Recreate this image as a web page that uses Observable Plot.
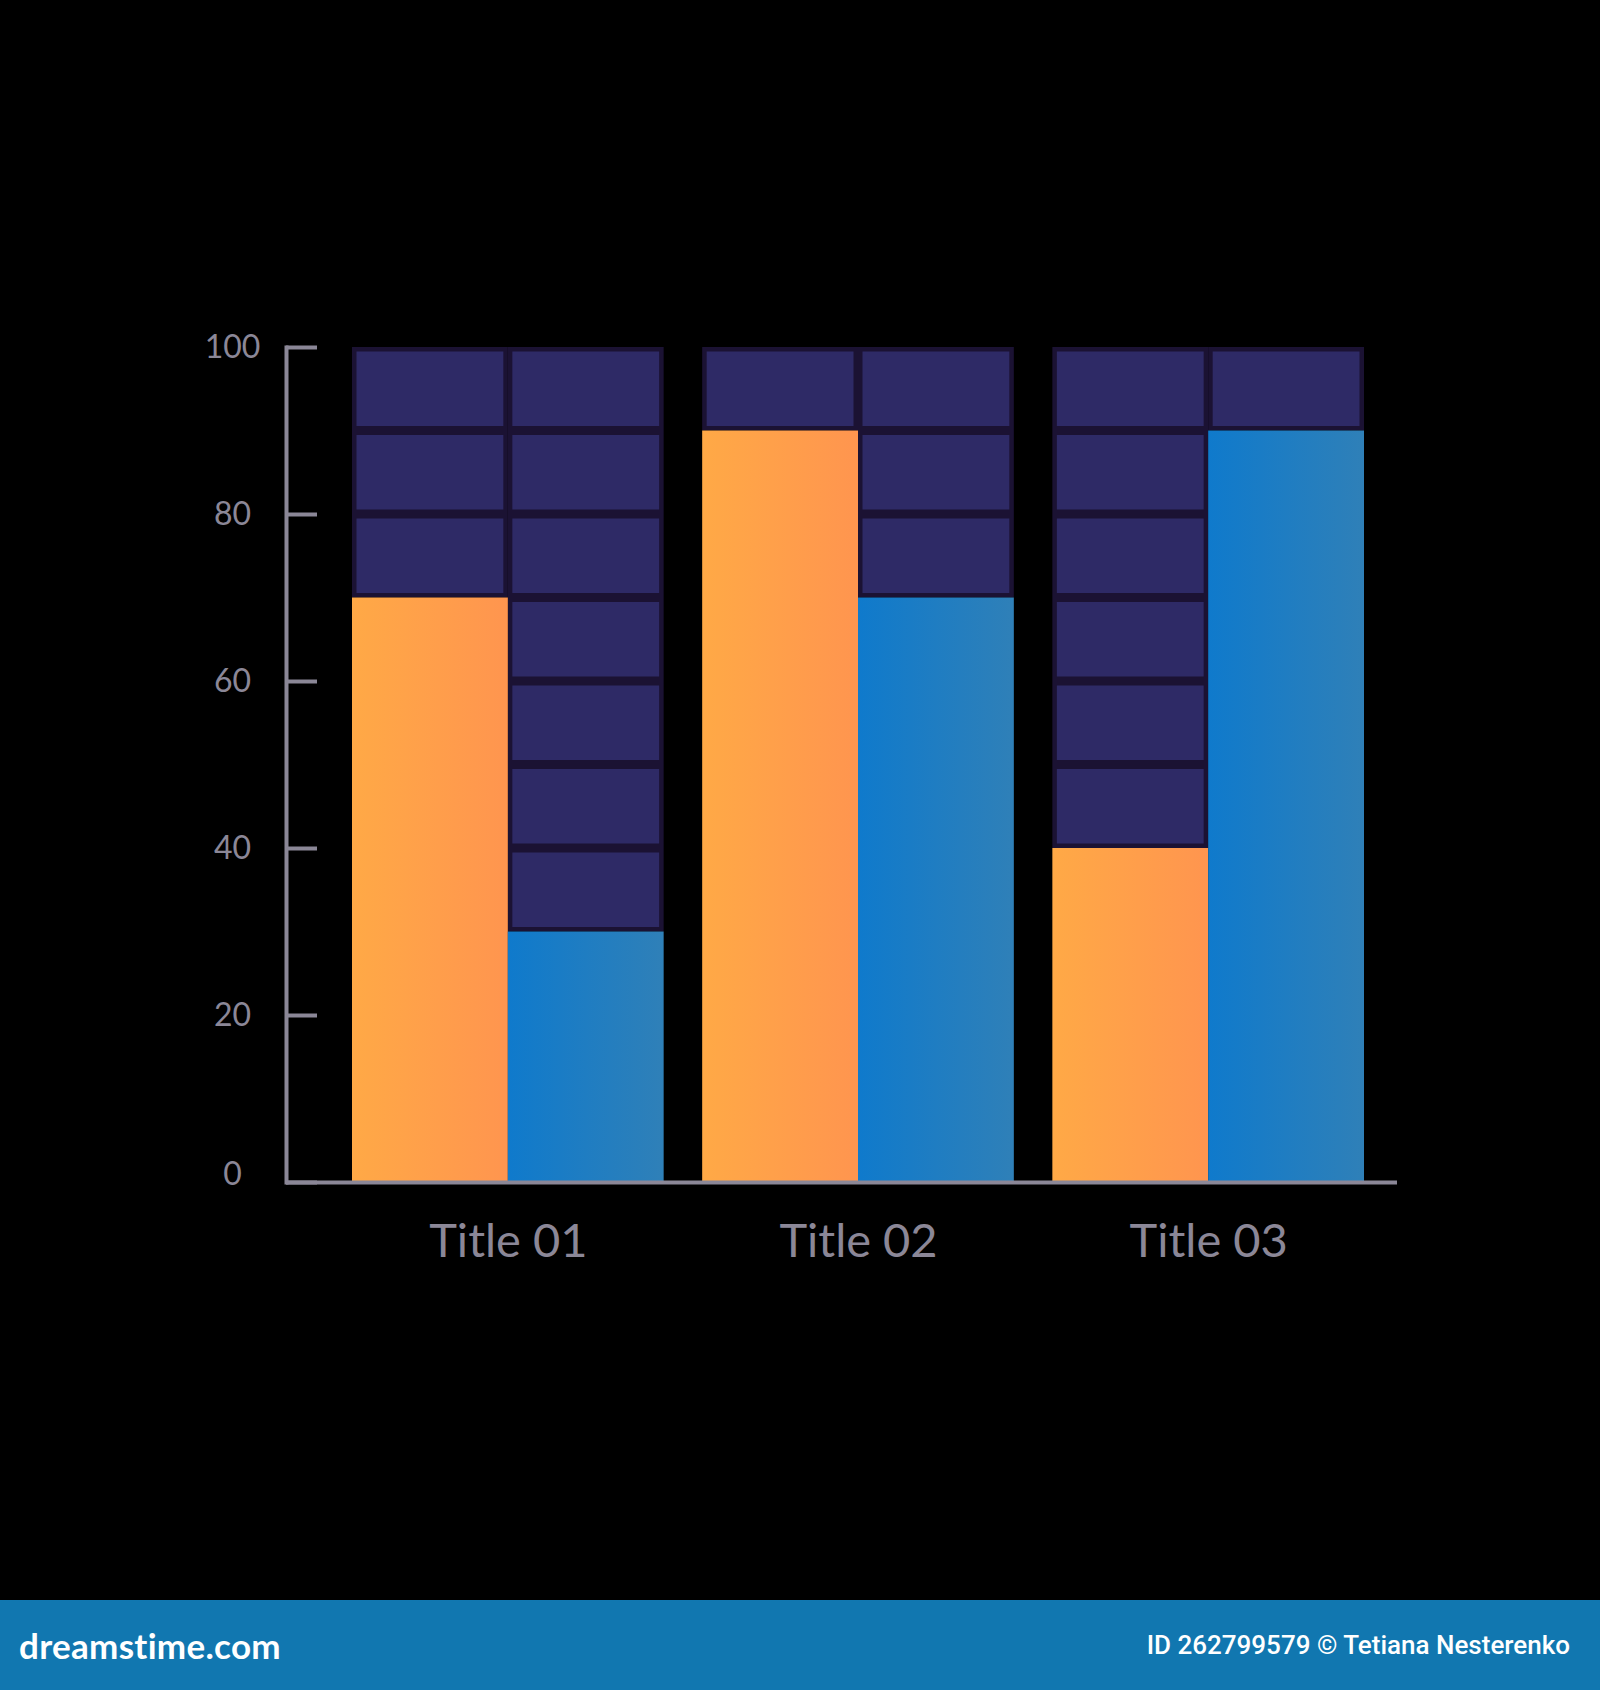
<!DOCTYPE html>
<html>
<head>
<meta charset="utf-8">
<script src="https://cdn.jsdelivr.net/npm/d3@7"></script>
<script src="https://cdn.jsdelivr.net/npm/@observablehq/plot@0.6"></script>
<style>
  html, body { margin: 0; padding: 0; background: #000; }
  #chart { width: 1600px; height: 1600px; background: #000; }
  #footer {
    width: 1600px; height: 90px; background: #1177b0;
    display: flex; align-items: center; justify-content: space-between;
    box-sizing: border-box; padding: 0 30px 0 19px; color: #fff;
  }
  #footer .brand { font-family: Lato, sans-serif; font-weight: 700; font-size: 35px; letter-spacing: 0.3px; }
  #footer .credit { font-family: Roboto, sans-serif; font-weight: 500; font-size: 26px; }
</style>
</head>
<body>
<div id="chart"></div>
<div id="footer"><span class="brand">dreamstime.com</span><span class="credit">ID 262799579 © Tetiana Nesterenko</span></div>
<script>
// ---- data ----
const groups = ["Title 01", "Title 02", "Title 03"];
const orangeValues = [70, 90, 40];
const blueValues = [30, 70, 90];
const yTicks = [0, 20, 40, 60, 80, 100];
const cellStep = 10;
const yMax = 100;

// ---- derived tables ----
const columns = [];
groups.forEach((g, i) => {
  columns.push({group: g, series: "orange", value: orangeValues[i]});
  columns.push({group: g, series: "blue", value: blueValues[i]});
});
const cells = [];
for (const c of columns) {
  for (let k = Math.ceil(c.value / cellStep); k < yMax / cellStep; k++) {
    cells.push({group: c.group, series: c.series, y1: k * cellStep, y2: (k + 1) * cellStep});
  }
}
const orangeRows = groups.map((g, i) => ({group: g, value: orangeValues[i]}));
const blueRows = groups.map((g, i) => ({group: g, value: blueValues[i]}));

// ---- layout ----
const W = 1600, H = 1600;
const marginLeft = 286, marginRight = 203, marginTop = 347, marginBottom = 418;
const xRange = [352, 1364];
const padInner = 0.11;
const bw = d3.scaleBand().domain(groups).range(xRange).paddingInner(padInner).paddingOuter(0).bandwidth();
const half = bw / 2;
const frameW = W - marginLeft - marginRight;

const axisColor = "#8b8797";
const navy = "#2e2a66";
const navyEdge = "#1b1233";
const cellInset = 4.5;
const tickLabel = {text: d => String(d), frameAnchor: "left", dx: -54, textAnchor: "middle", fontSize: 32, fill: axisColor};

const chart = Plot.plot({
  width: W, height: H,
  marginLeft, marginRight, marginTop, marginBottom,
  style: {background: "#000", fontFamily: "Lato, sans-serif", color: axisColor},
  x: {domain: groups, range: xRange, paddingInner: padInner, paddingOuter: 0, round: false, axis: null},
  y: {domain: [0, yMax], axis: null},
  marks: [
    // dark backing behind the empty cells
    Plot.barY(columns.filter(d => d.series === "orange"), {x: "group", y1: "value", y2: () => yMax, fill: navyEdge, insetRight: half}),
    Plot.barY(columns.filter(d => d.series === "blue"), {x: "group", y1: "value", y2: () => yMax, fill: navyEdge, insetLeft: half}),
    // navy cells
    Plot.barY(cells.filter(d => d.series === "orange"), {x: "group", y1: "y1", y2: "y2", fill: navy,
      insetTop: cellInset, insetBottom: cellInset, insetLeft: cellInset, insetRight: half + cellInset}),
    Plot.barY(cells.filter(d => d.series === "blue"), {x: "group", y1: "y1", y2: "y2", fill: navy,
      insetTop: cellInset, insetBottom: cellInset, insetLeft: half + cellInset, insetRight: cellInset}),
    // value bars
    Plot.barY(orangeRows, {x: "group", y: "value", fill: "url(#gradOrange)", insetRight: half}),
    Plot.barY(blueRows, {x: "group", y: "value", fill: "url(#gradBlue)", insetLeft: half}),
    // axes
    Plot.frame({anchor: "left", stroke: axisColor, strokeWidth: 4}),
    Plot.ruleY([0], {stroke: axisColor, strokeWidth: 4}),
    Plot.tickY(yTicks, {y: d => d, stroke: axisColor, strokeWidth: 4, insetRight: frameW - 31}),
    Plot.text(yTicks.filter(d => d !== 0), {y: d => d, ...tickLabel}),
    Plot.text(yTicks.filter(d => d === 0), {y: d => d, ...tickLabel, dy: -8}),
    Plot.text(groups, {x: d => d, text: d => d, frameAnchor: "bottom", dy: 74, textAnchor: "middle",
      fontSize: 47, fill: axisColor})
  ]
});

// gradients
const ns = "http://www.w3.org/2000/svg";
const defs = document.createElementNS(ns, "defs");
function grad(id, c0, c1) {
  const lg = document.createElementNS(ns, "linearGradient");
  lg.setAttribute("id", id);
  lg.setAttribute("x1", "0"); lg.setAttribute("x2", "1"); lg.setAttribute("y1", "0"); lg.setAttribute("y2", "0");
  [[0, c0], [1, c1]].forEach(([o, c]) => {
    const s = document.createElementNS(ns, "stop");
    s.setAttribute("offset", o); s.setAttribute("stop-color", c);
    lg.appendChild(s);
  });
  defs.appendChild(lg);
}
grad("gradOrange", "#ffa946", "#ff954f");
grad("gradBlue", "#0f7acc", "#2f80b8");
const svg = chart.tagName.toLowerCase() === "svg" ? chart : chart.querySelector("svg");
svg.insertBefore(defs, svg.firstChild);

document.getElementById("chart").appendChild(chart);
</script>
</body>
</html>
